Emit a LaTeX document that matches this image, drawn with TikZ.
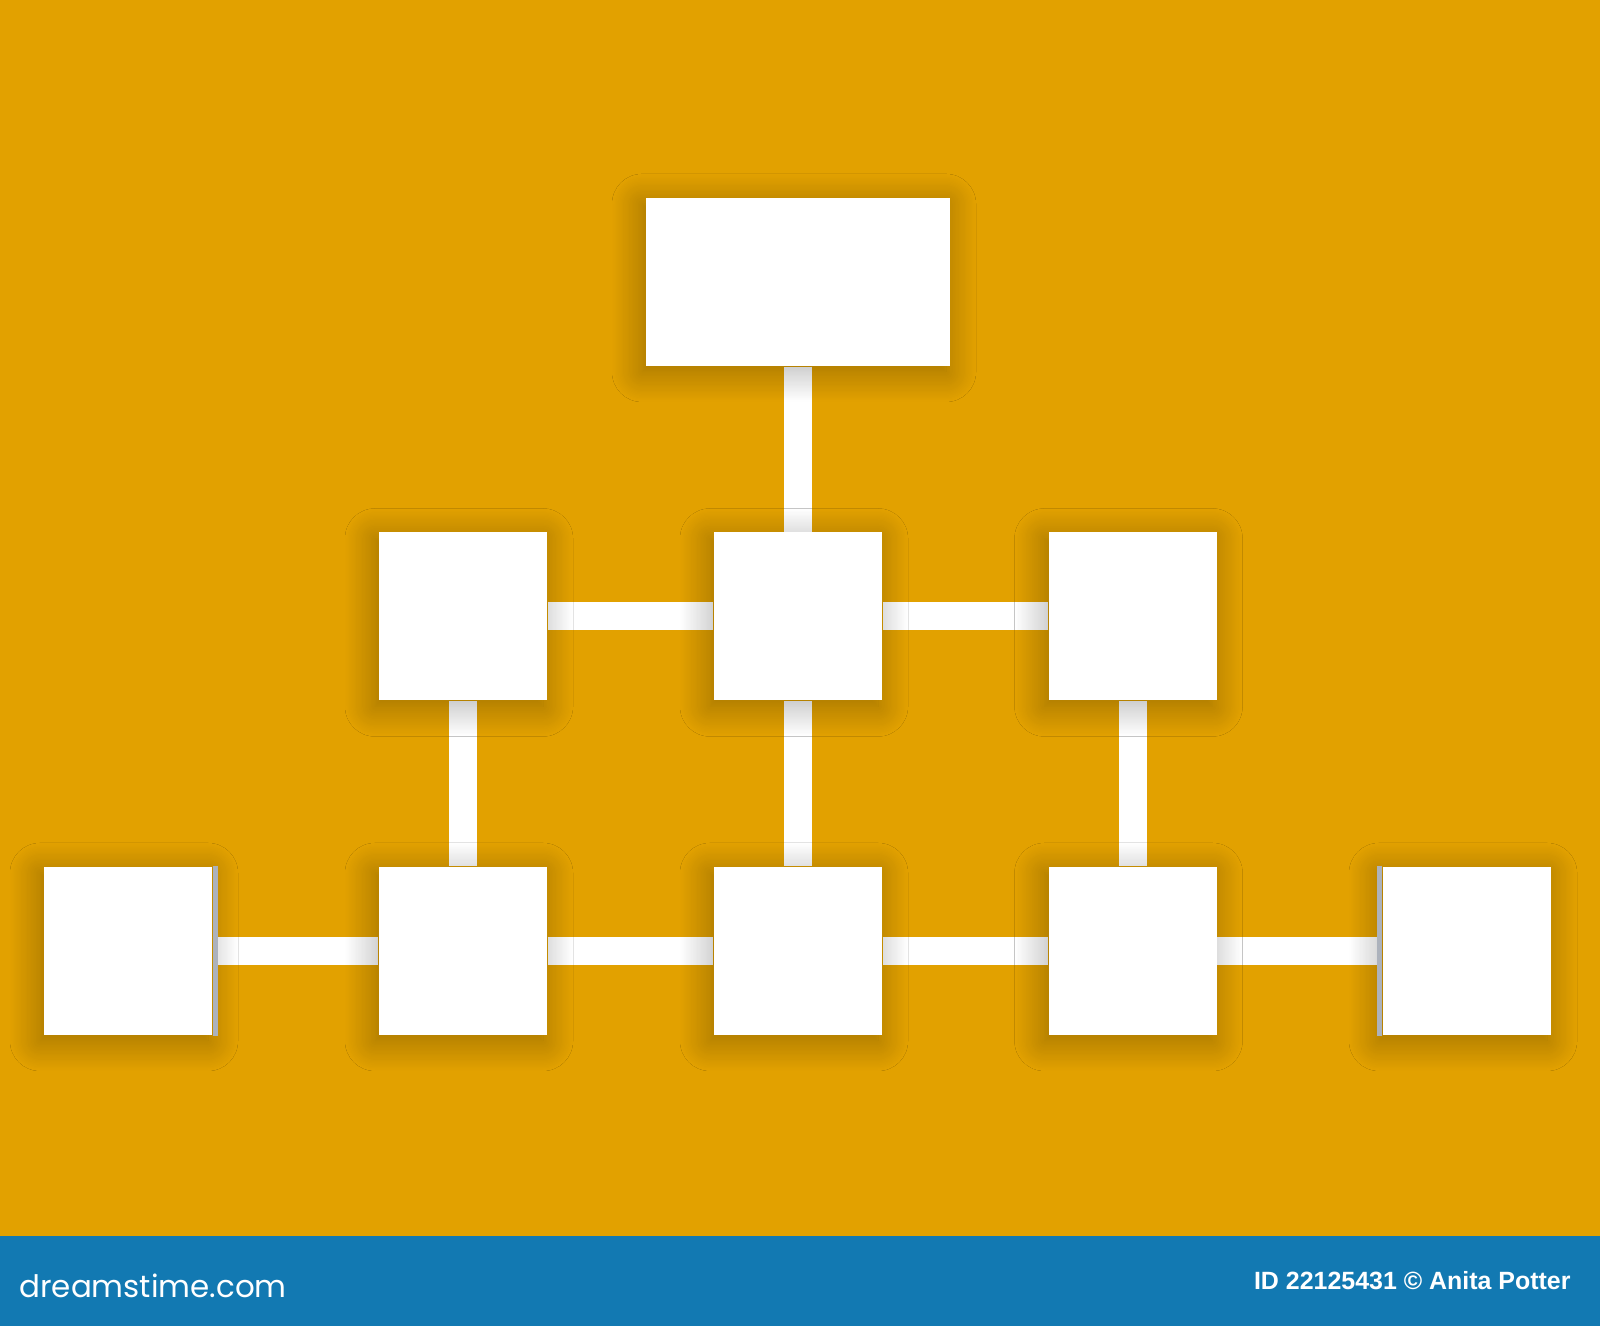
\documentclass[tikz,border=0pt]{standalone}
\usepackage{fontspec}
\usetikzlibrary{backgrounds, shadows.blur}
\newfontfamily\logofont{Poppins}
\newfontfamily\creditfont{Liberation Sans}
\definecolor{amber}{RGB}{226,161,0}
\definecolor{barblue}{RGB}{18,121,178}
\definecolor{sidegrey}{RGB}{172,178,188}
\tikzset{cell/.style = {rectangle,fill=white,inner sep=0pt,minimum width=1.68cm,minimum height=1.68cm,
    blur shadow={shadow xshift=-0.04cm,shadow yshift=-0.06cm,shadow blur radius=0.3cm,shadow blur steps=25,shadow opacity=32}}}
\tikzset{link/.style = {white,line width=0.28cm}}

\begin{document}
\begin{tikzpicture}
            \useasboundingbox (0,0) rectangle (16,13.26);

            \node [cell,minimum width=3.04cm] (top) at (7.98,10.44) {};
            \node [cell] (m1) at ( 4.63,7.095) {};
            \node [cell] (m2) at ( 7.98,7.095) {};
            \node [cell] (m3) at (11.325,7.095) {};

            \foreach \i/\x in {1/1.28, 2/4.63, 3/7.98, 4/11.325, 5/14.67}{
                \node [cell] (b\i) at (\x,3.75) {};
            }

            \fill [sidegrey] (b1.north east) rectangle ([xshift=0.05cm]b1.south east);
            \fill [sidegrey] ([xshift=-0.05cm]b5.north west) rectangle (b5.south west);

            \begin{scope}[on background layer]
                \fill [amber] (0,0.9) rectangle (16,13.26);
                \fill [barblue] (0,0) rectangle (16,0.9);

                \draw [link] (top) -- (m2);
                \draw [link] (m1) -- (m2) -- (m3);
                \draw [link] (m1) -- (b2);
                \draw [link] (m2) -- (b3);
                \draw [link] (m3) -- (b4);
                \draw [link] (b1) -- (b2) -- (b3) -- (b4) -- (b5);
            \end{scope}

            \node [anchor=base west,text=white,font=\logofont\fontsize{8.8}{10}\selectfont] (logo) at (0.07,0.28) {dreamstime.com};
            \node [anchor=base east,text=white,font=\creditfont\bfseries\fontsize{7.1}{8}\selectfont] (credit) at (15.83,0.36) {ID 22125431 © Anita Potter};
        \end{tikzpicture}
\end{document}
